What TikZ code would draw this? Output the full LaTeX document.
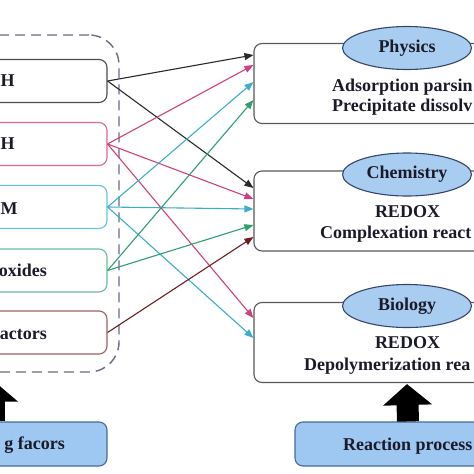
\documentclass[tikz,border=0pt]{standalone}
\usepackage{fontspec}
\setmainfont{Liberation Serif}
\usetikzlibrary{arrows.meta,shapes.geometric,calc}
\definecolor{cpink}{HTML}{D0407E}
\definecolor{ccyan}{HTML}{3AAECB}
\definecolor{cgreen}{HTML}{2F9E70}
\definecolor{cbrown}{HTML}{6E1E22}
\definecolor{cdark}{HTML}{2A2A2A}
\definecolor{ellfill}{HTML}{A9CDF0}
\definecolor{ellline}{HTML}{34466A}
\definecolor{boxfill}{HTML}{9EC8F2}
\definecolor{boxline}{HTML}{4A6A92}
\definecolor{dashc}{HTML}{6C6A84}
\definecolor{txt}{HTML}{1A1A2A}
\tikzset{
  fbox/.style={draw, line width=1.1pt, rounded corners=8pt, minimum width=227pt, minimum height=43pt, inner sep=0pt},
  rbox/.style={draw=black!65, line width=1.1pt, rounded corners=8pt, minimum width=306pt, minimum height=80pt, inner sep=0pt},
  ell/.style={ellipse, draw=ellline, fill=ellfill, line width=1.1pt, minimum width=129pt, minimum height=43pt, inner sep=0pt, font=\fontsize{18}{21}\selectfont\bfseries, text=txt},
  bbox/.style={draw=boxline, fill=boxfill, line width=1.1pt, rounded corners=8pt, minimum height=44pt, inner sep=0pt},
  lab/.style={font=\fontsize{18}{21}\selectfont\bfseries, text=txt, inner sep=0pt},
  conn/.style={line width=1.1pt, -{Triangle[length=9pt,width=7pt]}},
  bigarrow/.style={line width=22pt, -{Triangle[length=21pt,width=48pt]}, draw=black}
}
\begin{document}
\begin{tikzpicture}[x=1pt,y=-1pt]
\useasboundingbox (0,0) rectangle (474,474);
\clip (0,0) rectangle (474,474);
\fill[white] (0,0) rectangle (474,474);
% dashed group
\node[draw=dashc, line width=1.4pt, dash pattern=on 10pt off 6pt, rounded corners=30pt, minimum width=239pt, minimum height=337pt] (dashbox) at (-0.5,203.5) {};
% left factor boxes
\node[fbox, draw=black!70, fill=white] (f1) at (-6.5,81) {};
\node[fbox, draw=cpink!80, fill=white] (f2) at (-6.5,144) {};
\node[fbox, draw=ccyan!75, fill=white] (f3) at (-6.5,207) {};
\node[fbox, draw=cgreen!70, fill=white] (f4) at (-6.5,270.5) {};
\node[fbox, draw=cbrown!70, fill=white] (f5) at (-6.5,332.5) {};
\node[lab, anchor=base west] (t1) at (0.5,86) {H};
\node[lab, anchor=base west] (t2) at (0.5,149) {H};
\node[lab, anchor=base west] (t3) at (0.5,214) {M};
\node[lab, anchor=base east] (t4) at (47,276) {oxides};
\node[lab, anchor=base east] (t5) at (47,339) {actors};
% right boxes
\node[rbox] (phys) at (407,83.5) {};
\node[rbox] (chem) at (407,211) {};
\node[rbox] (bio) at (407,342.5) {};
\node[ell] (ephys) at (407,48) {Physics};
\node[ell] (echem) at (407,174.5) {Chemistry};
\node[ell] (ebio) at (407,306) {Biology};
\node[lab, anchor=base west] (p1) at (332,91) {Adsorption parsin};
\node[lab, anchor=base west] (p2) at (332,111.5) {Precipitate dissolv};
\node[lab, anchor=base] (c1) at (407.5,217) {REDOX};
\node[lab, anchor=base west] (c2) at (320,238) {Complexation react};
\node[lab, anchor=base] (b1) at (407.5,348.5) {REDOX};
\node[lab, anchor=base west] (b2) at (304,370) {Depolymerization rea};
% bottom boxes
\node[bbox, minimum width=227pt] (inf) at (-6.5,444) {};
\node[lab, anchor=base east] (inft) at (65,449.5) {g facors};
\node[bbox, minimum width=226pt] (rp) at (408,444) {};
\node[lab, anchor=base west] (rpt) at (343,450) {Reaction process};
% connectors
\draw[conn, draw=cdark] (f1.east) -- ([yshift=28.5pt]phys.west);
\draw[conn, draw=cdark] (f1.east) -- ([yshift=23pt]chem.west);
\draw[conn, draw=cpink] (f2.east) -- ([yshift=18.5pt]phys.west);
\draw[conn, draw=cpink] (f2.east) -- ([yshift=12pt]chem.west);
\draw[conn, draw=cpink] (f2.east) -- ([yshift=24.5pt]bio.west);
\draw[conn, draw=ccyan] (f3.east) -- ([yshift=1.5pt]phys.west);
\draw[conn, draw=ccyan] (f3.east) -- ([yshift=2pt]chem.west);
\draw[conn, draw=ccyan] (f3.east) -- ([yshift=4.5pt]bio.west);
\draw[conn, draw=cgreen] (f4.east) -- ([yshift=-16.5pt]phys.west);
\draw[conn, draw=cgreen] (f4.east) -- ([yshift=-14pt]chem.west);
\draw[conn, draw=cbrown] (f5.east) -- ([yshift=-26pt]chem.west);
% big arrows
\draw[bigarrow] (inf.north) -- ([yshift=-8pt]inf.north |- dashbox.south);
\draw[bigarrow] (rp.north) -- ([yshift=-1pt]bio.south);
\end{tikzpicture}
\end{document}
